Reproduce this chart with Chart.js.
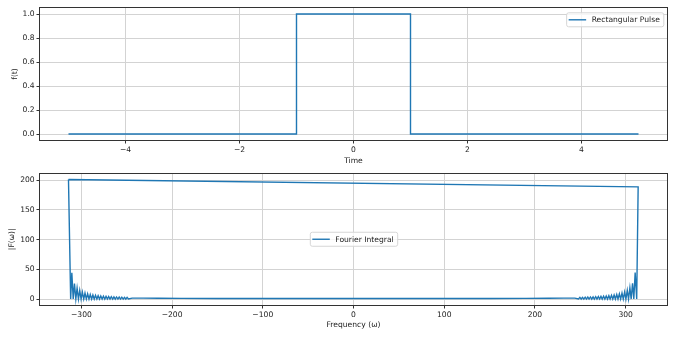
<!DOCTYPE html>
<html>
<head>
<meta charset="utf-8">
<script src="https://cdn.jsdelivr.net/npm/chart.js@4.4.0/dist/chart.umd.min.js"></script>
<style>
  html, body { margin: 0; padding: 0; background: #fff; }
  .box { position: absolute; left: 0; width: 676px; height: 169px; }
</style>
</head>
<body>
<div class="box" style="top:0"><canvas id="pulseChart" width="676" height="169"></canvas></div>
<div class="box" style="top:169px"><canvas id="fourierChart" width="676" height="169"></canvas></div>
<script>
// top plot: rectangular pulse
var timeVals  = [-5, -1, -1, 1, 1, 5];
var pulseVals = [0, 0, 1, 1, 0, 0];
var timeTicks  = [-4, -2, 0, 2, 4];
var pulseTicks = [0, 0.2, 0.4, 0.6, 0.8, 1.0];

// bottom plot: |F(w)|, points in drawing order (path closes back to the start)
var freqOmega = [
  -314.2, -311.8, -310.5, -309.0, -307.6, -306.1, -304.7, -303.2, -301.8, -300.3,
  -298.9, -297.4, -296.0, -294.5, -293.1, -291.6, -290.2, -288.7, -287.3, -285.8,
  -284.4, -282.9, -281.5, -280.0, -278.6, -277.1, -275.7, -274.2, -272.8, -271.3,
  -269.9, -268.4, -267.0, -265.5, -264.1, -262.6, -261.2, -259.7, -258.3, -256.8,
  -255.4, -253.9, -252.5, -251.0, -249.6, -248.1,
  -244, -232, -215, -190, -150, -100, -50, 0, 50, 100, 150, 190, 215, 232, 244, 248.1,
  249.6, 251.0, 252.5, 253.9, 255.4, 256.8, 258.3, 259.7, 261.2, 262.6,
  264.1, 265.5, 267.0, 268.4, 269.9, 271.3, 272.8, 274.2, 275.7, 277.1,
  278.6, 280.0, 281.5, 282.9, 284.4, 285.8, 287.3, 288.7, 290.2, 291.6,
  293.1, 294.5, 296.0, 297.4, 298.9, 300.3, 301.8, 303.2, 304.7, 306.1,
  307.6, 309.0, 310.5, 312.2, 313.8, -314.2
];
var freqMag = [
  201, 0, 44, 0, 26, 0, 18.5, 0, 14.5, 0,
  11.8, 0, 10, 0, 8.7, 0, 7.7, 0, 6.9, 0,
  6.2, 0, 5.7, 0, 5.2, 0, 4.8, 0, 4.5, 0,
  4.2, 0, 3.9, 0, 3.7, 0, 3.5, 0, 3.3, 0,
  3.1, 0, 2.9, 0, 2.8, 0,
  1.6, 1.5, 1.3, 1.2, 1.0, 0.9, 0.8, 0.8, 0.8, 0.9, 1.0, 1.2, 1.3, 1.5, 1.6, 0,
  2.8, 0, 2.9, 0, 3.1, 0, 3.3, 0, 3.5, 0,
  3.7, 0, 3.9, 0, 4.2, 0, 4.5, 0, 4.8, 0,
  5.2, 0, 5.7, 0, 6.2, 0, 6.9, 0, 7.7, 0,
  8.7, 0, 10, 0, 11.8, 0, 14.5, 0, 19, 0,
  26.5, 0, 44.5, 0, 188.5, 201
];
var freqTicks = [-300, -200, -100, 0, 100, 200, 300];
var magTicks  = [0, 50, 100, 150, 200];

var FONT = { family: '"DejaVu Sans", sans-serif', size: 7.6 };
var TEXT = '#222';
var BLUE = '#1f77b4';

function minus(v) { return (v < 0 ? '\u2212' : '') + Math.abs(v); }

// black frame round the plot area, like matplotlib spines
var framePlugin = {
  id: 'frame',
  afterDraw: function (chart) {
    var a = chart.chartArea, ctx = chart.ctx;
    ctx.save();
    ctx.strokeStyle = '#333';
    ctx.lineWidth = 1;
    ctx.strokeRect(Math.round(a.left) - 0.5, Math.round(a.top) - 0.5,
      Math.round(a.right) - Math.round(a.left) + 1, Math.round(a.bottom) - Math.round(a.top) + 1);
    ctx.restore();
  }
};

// legend drawn inside the plot area
var insetLegend = {
  id: 'insetLegend',
  afterDraw: function (chart, args, opts) {
    var a = chart.chartArea, ctx = chart.ctx;
    var ds = chart.data.datasets[0];
    ctx.save();
    ctx.font = FONT.size + 'px ' + FONT.family;
    var w = ctx.measureText(ds.label).width + 29, h = 14, x, y;
    if (opts.where === 'upper right') {
      x = a.right - 3.7 - w; y = a.top + 4.3;
    } else {
      x = (a.left + a.right) / 2 - w / 2; y = (a.top + a.bottom) / 2 - h / 2 - 0.5;
    }
    ctx.beginPath();
    ctx.roundRect(x + 0.5, y + 0.5, w, h, 2);
    ctx.fillStyle = 'rgba(255,255,255,0.8)';
    ctx.fill();
    ctx.strokeStyle = '#d6d6d6';
    ctx.lineWidth = 1;
    ctx.stroke();
    ctx.beginPath();
    ctx.moveTo(x + 2.5, y + h / 2 + 0.5);
    ctx.lineTo(x + 20, y + h / 2 + 0.5);
    ctx.strokeStyle = ds.borderColor;
    ctx.lineWidth = 1.4;
    ctx.stroke();
    ctx.fillStyle = TEXT;
    ctx.textBaseline = 'middle';
    ctx.fillText(ds.label, x + 25.5, y + h / 2 + 0.8);
    ctx.restore();
  }
};

function axis(ticks, fmt, title, size, titlePad, horizontal) {
  return {
    type: 'linear',
    afterBuildTicks: function (s) { s.ticks = ticks.map(function (v) { return { value: v }; }); },
    afterFit: function (s) {
      if (horizontal) s.height = size; else s.width = size;
      s.paddingTop = s.paddingBottom = s.paddingLeft = s.paddingRight = 0;
    },
    ticks: { callback: fmt, font: FONT, color: TEXT, padding: horizontal ? 1.5 : 1.8, maxRotation: 0, autoSkip: false },
    grid: { color: '#d3d3d3', lineWidth: 1, tickLength: 3.5, tickColor: '#333' },
    border: { display: false },
    title: { display: true, text: title, font: FONT, color: TEXT, padding: titlePad }
  };
}

function points(xs, ys) {
  return xs.map(function (v, i) { return { x: v, y: ys[i] }; });
}

var pulseX = axis(timeTicks, minus, 'Time', 29, { top: 0, bottom: 3.8 }, true);
pulseX.min = -5.5; pulseX.max = 5.5;
var pulseY = axis(pulseTicks, function (v) { return v.toFixed(1); }, 'f(t)', 40, { top: 10.5, bottom: 0 }, false);
pulseY.min = -0.05; pulseY.max = 1.05;

new Chart(document.getElementById('pulseChart'), {
  type: 'scatter',
  data: { datasets: [{
    label: 'Rectangular Pulse',
    data: points(timeVals, pulseVals),
    showLine: true, borderColor: BLUE, borderWidth: 1.4, pointRadius: 0, tension: 0
  }] },
  options: {
    responsive: false, animation: false,
    layout: { padding: { top: 8, right: 9, left: 0, bottom: 0 } },
    scales: { x: pulseX, y: pulseY },
    plugins: { legend: { display: false }, tooltip: { enabled: false }, insetLegend: { where: 'upper right' } }
  },
  plugins: [framePlugin, insetLegend]
});

var freqX = axis(freqTicks, minus, 'Frequency (\u03c9)', 33, { top: 0, bottom: 8.5 }, true);
freqX.min = -345.6; freqX.max = 345.6;
var freqY = axis(magTicks, function (v) { return String(v); }, '|F(\u03c9)|', 40, { top: 7.2, bottom: 0 }, false);
freqY.min = -10; freqY.max = 211;

new Chart(document.getElementById('fourierChart'), {
  type: 'scatter',
  data: { datasets: [{
    label: 'Fourier Integral',
    data: points(freqOmega, freqMag),
    showLine: true, borderColor: BLUE, borderWidth: 1.4, pointRadius: 0, tension: 0
  }] },
  options: {
    responsive: false, animation: false,
    layout: { padding: { top: 4.5, right: 9, left: 0, bottom: 0 } },
    scales: { x: freqX, y: freqY },
    plugins: { legend: { display: false }, tooltip: { enabled: false }, insetLegend: { where: 'center' } }
  },
  plugins: [framePlugin, insetLegend]
});
</script>
</body>
</html>
